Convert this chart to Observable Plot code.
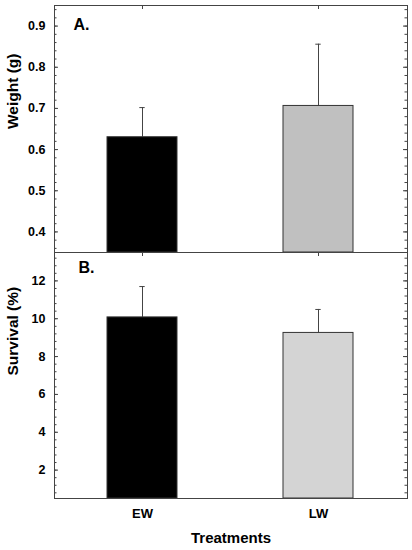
<!DOCTYPE html>
<html>
<head>
<meta charset="utf-8">
<script src="https://cdn.jsdelivr.net/npm/d3@7"></script>
<script src="https://cdn.jsdelivr.net/npm/@observablehq/plot@0.6"></script>
<style>
  body { margin: 0; background: #fff; }
  #chart { position: relative; width: 412px; height: 550px; }
  #chart svg { position: absolute; left: 0; }
</style>
</head>
<body>
<div id="chart"></div>
<script>
// ---- data ----
const treatments = ["EW", "LW"];
const weightMean = [0.63, 0.706];
const weightErr = [0.072, 0.15];
const survivalMean = [10.07, 9.25];
const survivalErr = [1.63, 1.24];
const weightTicks = [0.4, 0.5, 0.6, 0.7, 0.8, 0.9];
const survivalTicks = [2, 4, 6, 8, 10, 12];
const weightMinor = d3.range(36, 96, 2).map(v => v / 100);
const survivalMinor = d3.range(2, 34, 1).map(v => v * 0.4);
const colorsA = ["#000000", "#c0c0c0"];
const colorsB = ["#000000", "#d4d4d4"];

const W = 412, ML = 54, MR = 5;
const PW = W - ML - MR;
const FRAME = "#444";

function panel({means, errs, colors, domain, ticks, minor, fmt, label, letter, letterDx, letterDy, top, height, marginTop, marginBottom, xLabels}) {
  const data = treatments.map((t, i) => ({t, m: means[i], e: errs[i], c: colors[i]}));
  const PH = height - marginTop - marginBottom;
  const step = PW / (2 - 0.6 + 0.6);
  const bw = step * 0.4;
  const capInset = (bw - 6) / 2;
  const marks = [
    // inward minor / major ticks left and right
    Plot.tickY(minor, {y: d => d, insetRight: PW - 2.5, stroke: FRAME}),
    Plot.tickY(minor, {y: d => d, insetLeft: PW - 2.5, stroke: FRAME}),
    Plot.tickY(ticks, {y: d => d, insetRight: PW - 4, stroke: FRAME}),
    Plot.tickY(ticks, {y: d => d, insetLeft: PW - 4, stroke: FRAME}),
    // top ticks at category centres
    Plot.tickX(data, {x: "t", insetBottom: PH - 4, stroke: FRAME}),
    // error bars
    Plot.ruleX(data, {x: "t", y1: "m", y2: d => d.m + d.e, stroke: "#444", strokeWidth: 1}),
    Plot.tickY(data, {x: "t", y: d => d.m + d.e, stroke: "#444", insetLeft: capInset, insetRight: capInset}),
    // bars
    Plot.barY(data, {x: "t", y1: domain[0], y2: "m", fill: "c", stroke: "#333", strokeWidth: 1}),
    Plot.frame({stroke: FRAME}),
    Plot.axisY(ticks, {tickSize: 0, tickPadding: 9, tickFormat: fmt, fontSize: 12.5, fontWeight: "bold", fill: "#000", label: null}),
    Plot.text([label], {frameAnchor: "left", dx: -41, rotate: -90, fontSize: 15.5, fontWeight: "bold"}),
    Plot.text([letter], {frameAnchor: "top-left", dx: letterDx, dy: letterDy, textAnchor: "start", lineAnchor: "middle", fontSize: 16, fontWeight: "bold"})
  ];
  if (xLabels) {
    marks.push(Plot.text(data, {x: "t", text: "t", frameAnchor: "bottom", dy: 15, lineAnchor: "middle", fontSize: 13, fontWeight: "bold"}));
    marks.push(Plot.text(["Treatments"], {frameAnchor: "bottom", dy: 40, lineAnchor: "middle", fontSize: 15, fontWeight: "bold"}));
  }
  const svg = Plot.plot({
    width: W,
    height,
    marginLeft: ML,
    marginRight: MR,
    marginTop,
    marginBottom,
    style: {fontFamily: "'Liberation Sans', Arial, sans-serif", background: "transparent", overflow: "visible"},
    x: {domain: treatments, paddingInner: 0.6, paddingOuter: 0.3, axis: null, label: null},
    y: {domain, axis: null, label: null},
    marks
  });
  svg.style.top = top + "px";
  return svg;
}

const chart = document.getElementById("chart");
chart.appendChild(panel({
  means: weightMean, errs: weightErr, colors: colorsA,
  domain: [0.35, 0.95], ticks: weightTicks, minor: weightMinor, fmt: d3.format(".1f"),
  label: "Weight (g)", letter: "A.", letterDx: 19, letterDy: 19,
  top: 0, height: 253, marginTop: 5, marginBottom: 1, xLabels: false
}));
chart.appendChild(panel({
  means: survivalMean, errs: survivalErr, colors: colorsB,
  domain: [0.5, 13.5], ticks: survivalTicks, minor: survivalMinor, fmt: d3.format("d"),
  label: "Survival (%)", letter: "B.", letterDx: 24, letterDy: 15,
  top: 251, height: 299, marginTop: 1, marginBottom: 52, xLabels: true
}));
</script>
</body>
</html>
